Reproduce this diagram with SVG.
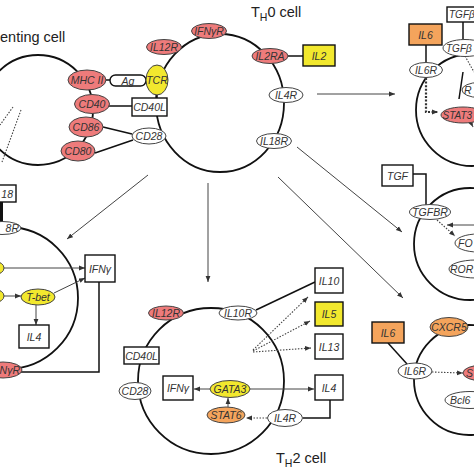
<svg xmlns="http://www.w3.org/2000/svg" width="474" height="474" viewBox="0 0 474 474">
<defs>
<marker id="ah" viewBox="0 0 10 10" refX="10" refY="5" markerWidth="6" markerHeight="6" markerUnits="userSpaceOnUse" orient="auto"><path d="M0,1 L10,5 L0,9 Z" fill="#333"/></marker>
<style>
.cell{fill:none;stroke:#111;stroke-width:1.8}
.box{fill:#fff;stroke:#111;stroke-width:1.4}
.pk{fill:#EE7B7B;stroke:#444;stroke-width:1}
.yl{fill:#F2E82E;stroke:#444;stroke-width:1}
.og{fill:#F4A45C;stroke:#444;stroke-width:1}
.wh{fill:#fff;stroke:#444;stroke-width:1}
.t{font-family:"Liberation Sans",Arial,sans-serif;font-style:italic;font-size:10.5px;fill:#333;text-anchor:middle;dominant-baseline:central}
.s{text-anchor:start}
.e{text-anchor:end}
.sm{font-size:10px}
.title{font-family:"Liberation Sans",Arial,sans-serif;font-size:14.5px;fill:#222}
.ln{stroke:#111;stroke-width:1.5;fill:none}
.ar{stroke:#444;stroke-width:1;fill:none;marker-end:url(#ah)}
.dt{stroke:#444;stroke-width:1.1;fill:none;stroke-dasharray:1.5 1.5}
.dta{stroke:#444;stroke-width:1.1;fill:none;stroke-dasharray:1.5 1.5;marker-end:url(#ah)}
</style>
</defs>

<!-- cell membranes -->
<g id="membranes">
<circle class="cell" cx="38" cy="110" r="55"/>
<ellipse class="cell" cx="220" cy="103" rx="64" ry="69"/>
<circle class="cell" cx="7" cy="298" r="71"/>
<circle class="cell" cx="211" cy="381" r="73"/>
<circle class="cell" cx="472" cy="110" r="56"/>
<circle class="cell" cx="470" cy="244" r="56"/>
<circle class="cell" cx="469" cy="380" r="55"/>
</g>

<!-- connectors -->
<g id="connectors">
<line class="dt" x1="13" y1="107" x2="0" y2="125"/>
<line class="dt" x1="21" y1="110" x2="2" y2="162"/>
<line class="ln" x1="105" y1="80" x2="110" y2="80"/>
<line class="ln" x1="109" y1="106" x2="132" y2="106"/>
<line class="ln" x1="157" y1="95" x2="157" y2="98"/>
<line class="ln" x1="103" y1="127" x2="132" y2="134"/>
<line class="ln" x1="95" y1="153" x2="133" y2="140"/>
<line class="ln" x1="288" y1="56" x2="303" y2="56"/>
<!-- TH0 differentiation arrows -->
<line class="ar" x1="317" y1="94" x2="395" y2="94"/>
<line class="ar" x1="297" y1="147" x2="402" y2="232"/>
<line class="ar" x1="278" y1="177" x2="403" y2="298"/>
<line class="ar" x1="208" y1="183" x2="208" y2="282"/>
<line class="ar" x1="148" y1="175" x2="67" y2="239"/>
<!-- TH1 -->
<line x1="1.5" y1="202" x2="1.5" y2="222" stroke="#111" stroke-width="3"/>
<line class="ar" x1="4" y1="268" x2="85" y2="268"/>
<line class="ar" x1="4" y1="296" x2="21" y2="296"/>
<line class="ar" x1="54" y1="293" x2="85" y2="278"/>
<line class="ar" x1="36" y1="305" x2="36" y2="325"/>
<polyline class="ln" points="99,282 99,372 21,372"/>
<!-- TH2 -->
<line class="ln" x1="256" y1="310" x2="315" y2="282"/>
<line class="dta" x1="253" y1="350" x2="308" y2="297"/>
<line class="dta" x1="253" y1="351" x2="310" y2="321"/>
<line class="dta" x1="253" y1="352" x2="311" y2="348"/>
<line class="ar" x1="210" y1="389" x2="194" y2="389"/>
<line class="ar" x1="250" y1="389" x2="314" y2="389"/>
<line class="ar" x1="228" y1="407" x2="228" y2="398"/>
<line class="dta" x1="267" y1="418" x2="246" y2="418"/>
<polyline class="ln" points="330,400 330,418 303,418"/>
<!-- TH17 -->
<line class="ln" x1="426" y1="45" x2="426" y2="62"/>
<line class="ln" x1="463" y1="22" x2="463" y2="39"/>
<path d="M426,78 V112 H438" fill="none" stroke="#333" stroke-width="2.2" stroke-dasharray="2 1.6" marker-end="url(#ah)"/>
<line class="dt" x1="465" y1="56" x2="474" y2="72"/>
<line class="ln" x1="463" y1="72" x2="459" y2="99"/>
<line class="dta" x1="470" y1="121" x2="473" y2="127"/>
<!-- Treg -->
<polyline class="ln" points="413,174 426,174 426,205"/>
<line class="dta" x1="437" y1="220" x2="455" y2="236"/>
<line class="ar" x1="474" y1="225" x2="447" y2="225"/>
<!-- Tfh -->
<line class="ln" x1="388" y1="343" x2="407" y2="364"/>
<line class="dta" x1="432" y1="372" x2="463" y2="373"/>
</g>

<!-- titles -->
<text class="title" x="0" y="42">enting cell</text>
<text class="title" x="251" y="17">T<tspan font-size="10.5" dy="4">H</tspan><tspan dy="-4">0 cell</tspan></text>
<text class="title" x="276" y="463">T<tspan font-size="10.5" dy="4">H</tspan><tspan dy="-4">2 cell</tspan></text>

<!-- APC nodes -->
<g id="MHCII"><ellipse class="pk" cx="87" cy="80" rx="19" ry="10"/><text class="t" x="87" y="80">MHC II</text></g>
<g id="CD40"><ellipse class="pk" cx="92" cy="104" rx="17.5" ry="9.5"/><text class="t" x="92" y="104">CD40</text></g>
<g id="CD86"><ellipse class="pk" cx="86" cy="127" rx="17" ry="10"/><text class="t" x="86" y="127">CD86</text></g>
<g id="CD80"><ellipse class="pk" cx="78" cy="151" rx="17" ry="10"/><text class="t" x="78" y="151">CD80</text></g>
<g id="Ag"><rect x="110" y="75" width="36" height="11" rx="5.5" class="box"/><text class="t" x="128" y="80.5">Ag</text></g>

<!-- TH0 nodes -->
<g id="TCR"><ellipse class="yl" cx="157" cy="80" rx="11" ry="15"/><text class="t" x="157" y="80">TCR</text></g>
<g id="CD40L0"><rect class="box" x="132" y="98" width="35" height="18"/><text class="t" x="149.5" y="107">CD40L</text></g>
<g id="CD28_0"><ellipse class="wh" cx="149" cy="136" rx="17" ry="8"/><text class="t" x="149" y="136">CD28</text></g>
<g id="IFNgR0"><ellipse class="pk" cx="209" cy="31" rx="17.5" ry="7.5"/><text class="t" x="209" y="31">IFNγR</text></g>
<g id="IL12R0"><ellipse class="pk" cx="164" cy="47" rx="17.5" ry="7.5"/><text class="t" x="164" y="47">IL12R</text></g>
<g id="IL2RA"><ellipse class="pk" cx="270" cy="56" rx="18" ry="7.5"/><text class="t" x="270" y="56">IL2RA</text></g>
<g id="IL2"><rect x="303" y="45" width="32" height="21" fill="#F2E82E" stroke="#111" stroke-width="1.4"/><text class="t" x="319" y="55.5">IL2</text></g>
<g id="IL4R0"><ellipse class="wh" cx="286" cy="95" rx="17" ry="7.5"/><text class="t" x="286" y="95">IL4R</text></g>
<g id="IL18R0"><ellipse class="wh" cx="274" cy="141" rx="17.5" ry="7.5"/><text class="t" x="274" y="141">IL18R</text></g>

<!-- TH1 nodes -->
<g id="IL18"><rect class="box" x="-20" y="185" width="36" height="17"/><text class="t e" x="13" y="193.5">18</text></g>
<g id="IL18R1"><ellipse class="wh" cx="2" cy="228" rx="19" ry="6.5"/><text class="t e" x="19" y="228">8R</text></g>
<g id="Y1"><ellipse class="yl" cx="-5" cy="268" rx="9" ry="6.5"/></g>
<g id="Y2"><ellipse class="yl" cx="-5" cy="296" rx="9" ry="6.5"/></g>
<g id="Tbet"><ellipse class="yl" cx="38" cy="297" rx="17" ry="8"/><text class="t" x="38" y="297">T-bet</text></g>
<g id="IL4_1"><rect class="box" x="19" y="325" width="30" height="23"/><text class="t" x="34" y="336.5">IL4</text></g>
<g id="IFNg1"><rect class="box" x="85" y="255" width="30" height="27"/><text class="t" x="100" y="268.5">IFNγ</text></g>
<g id="IFNgR1"><ellipse class="pk" cx="3" cy="370" rx="19" ry="8"/><text class="t e" x="20" y="370">NγR</text></g>

<!-- TH2 nodes -->
<g id="IL12R2"><ellipse class="pk" cx="166" cy="313" rx="17.5" ry="7"/><text class="t" x="166" y="313">IL12R</text></g>
<g id="IL10R"><ellipse class="wh" cx="238" cy="313" rx="19" ry="7"/><text class="t" x="238" y="313">IL10R</text></g>
<g id="CD40L2"><rect class="box" x="124" y="347" width="35" height="17"/><text class="t" x="141.5" y="355.5">CD40L</text></g>
<g id="CD28_2"><ellipse class="wh" cx="135" cy="391" rx="16" ry="8.5"/><text class="t" x="135" y="391">CD28</text></g>
<g id="IFNg2"><rect class="box" x="163" y="376" width="30" height="24"/><text class="t" x="178" y="388">IFNγ</text></g>
<g id="GATA3"><ellipse class="yl" cx="230" cy="389" rx="20" ry="8.5"/><text class="t" x="230" y="389">GATA3</text></g>
<g id="STAT6"><ellipse class="og" cx="226" cy="415" rx="19" ry="8"/><text class="t" x="226" y="415">STAT6</text></g>
<g id="IL4R2"><ellipse class="wh" cx="285" cy="418" rx="17.5" ry="8.5"/><text class="t" x="285" y="418">IL4R</text></g>
<g id="IL10"><rect class="box" x="315" y="268" width="28" height="25"/><text class="t" x="329" y="280.5">IL10</text></g>
<g id="IL5"><rect x="315" y="302" width="28" height="24" fill="#F2E82E" stroke="#111" stroke-width="1.4"/><text class="t" x="329" y="314">IL5</text></g>
<g id="IL13"><rect class="box" x="315" y="334" width="28" height="25"/><text class="t" x="329" y="346.5">IL13</text></g>
<g id="IL4_2"><rect class="box" x="315" y="375" width="28" height="25"/><text class="t" x="329" y="387.5">IL4</text></g>

<!-- TH17 nodes -->
<g id="IL6a"><rect x="409" y="24" width="33" height="21" fill="#F4A45C" stroke="#111" stroke-width="1.4"/><text class="t" x="425.5" y="34.5">IL6</text></g>
<g id="IL6Ra"><ellipse class="wh" cx="426" cy="70" rx="16.5" ry="7.5"/><text class="t" x="426" y="70">IL6R</text></g>
<g id="TGFb"><rect class="box" x="447" y="7" width="40" height="15"/><text class="t s sm" x="449" y="14.5">TGFβ</text></g>
<g id="TGFBRa"><ellipse class="wh" cx="465" cy="48" rx="22" ry="8.5"/><text class="t s sm" x="446" y="48">TGFβ</text></g>
<g id="STAT3a"><ellipse class="pk" cx="463" cy="115" rx="22" ry="8"/><text class="t s sm" x="442.5" y="115">STAT3</text></g>
<g id="RORa"><ellipse class="wh" cx="479" cy="90" rx="17" ry="7.5"/><text class="t s" x="464" y="90">R</text></g>

<!-- Treg nodes -->
<g id="TGF"><rect class="box" x="382" y="165" width="31" height="21"/><text class="t" x="397.5" y="175.5">TGF</text></g>
<g id="TGFBRb"><ellipse class="wh" cx="430" cy="212" rx="20.5" ry="7.5"/><text class="t" x="430" y="212">TGFBR</text></g>
<g id="FOXP3"><ellipse class="wh" cx="478" cy="243" rx="23" ry="9"/><text class="t s" x="458" y="243">FO</text></g>
<g id="RORb"><ellipse class="wh" cx="476" cy="269" rx="27" ry="9"/><text class="t s" x="450" y="269">ROR</text></g>

<!-- Tfh nodes -->
<g id="IL6b"><rect x="372" y="322" width="32" height="21" fill="#F4A45C" stroke="#111" stroke-width="1.4"/><text class="t" x="388" y="332.5">IL6</text></g>
<g id="CXCR5"><ellipse class="og" cx="449" cy="327" rx="19" ry="9.5"/><text class="t" x="449" y="327">CXCR5</text></g>
<g id="IL6Rb"><ellipse class="wh" cx="415" cy="371" rx="17" ry="8"/><text class="t" x="415" y="371">IL6R</text></g>
<g id="STAT3b"><ellipse class="pk" cx="483" cy="373" rx="20" ry="8"/><text class="t s" x="466" y="373">S</text></g>
<g id="Bcl6"><ellipse class="wh" cx="470" cy="400" rx="25" ry="8.5"/><text class="t s" x="450" y="400">Bcl6</text></g>
</svg>
